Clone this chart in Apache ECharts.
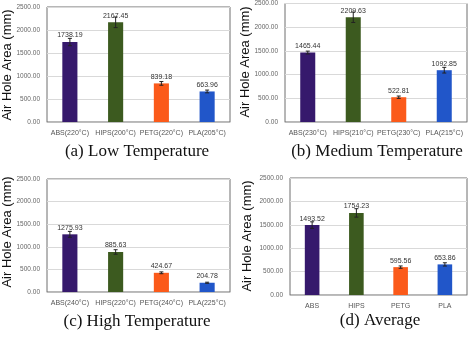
<!DOCTYPE html>
<html>
<head>
<meta charset="utf-8">
<script src="https://cdn.jsdelivr.net/npm/echarts@6/dist/echarts.min.js"></script>
<style>
  html, body { margin: 0; padding: 0; background: #fff; }
  #chart { width: 474px; height: 348px; }
</style>
</head>
<body>
<div id="chart"></div>
<script>
// categories
const catsLow = ['ABS(220°C)', 'HIPS(200°C)', 'PETG(220°C)', 'PLA(205°C)'];
const catsMed = ['ABS(230°C)', 'HIPS(210°C)', 'PETG(230°C)', 'PLA(215°C)'];
const catsHigh = ['ABS(240°C)', 'HIPS(220°C)', 'PETG(240°C)', 'PLA(225°C)'];
const catsAvg = ['ABS', 'HIPS', 'PETG', 'PLA'];

// values + error
const valLow = [1738.19, 2167.45, 839.18, 663.96];
const errLow = [80, 115, 40, 30];
const valMed = [1465.44, 2209.63, 522.81, 1092.85];
const errMed = [30, 110, 25, 60];
const valHigh = [1275.93, 885.63, 424.67, 204.78];
const errHigh = [65, 50, 20, 12];
const valAvg = [1493.52, 1754.23, 595.56, 653.86];
const errAvg = [70, 90, 25, 35];

const captions = ['(a) Low Temperature', '(b) Medium Temperature', '(c) High Temperature', '(d) Average'];
const barColors = ['#36196c', '#3c5a1f', '#fb5a1a', '#2156c9'];

const panels = [
  { cats: catsLow, vals: valLow, errs: errLow, grid: { left: 47, top: 7, width: 183, height: 115 } },
  { cats: catsMed, vals: valMed, errs: errMed, grid: { left: 285, top: 3, width: 182, height: 119 } },
  { cats: catsHigh, vals: valHigh, errs: errHigh, grid: { left: 47, top: 179, width: 183, height: 113 } },
  { cats: catsAvg, vals: valAvg, errs: errAvg, grid: { left: 290, top: 178, width: 177, height: 117 } }
];

const captionPos = [[137, 143], [377, 143], [137, 313], [380, 312]];
const yTitlePos = [[7, 65], [245, 62], [7, 232], [247, 236]];

const chart = echarts.init(document.getElementById('chart'));

const grids = [], xAxes = [], yAxes = [], series = [], graphics = [];

panels.forEach((p, i) => {
  grids.push(Object.assign({ show: true, borderColor: '#6e6e6e', borderWidth: 1 }, p.grid));
  xAxes.push({
    type: 'category', gridIndex: i, data: p.cats,
    axisLine: { show: true, lineStyle: { color: '#bdbdbd' } },
    axisTick: { show: false },
    axisLabel: { fontSize: 7, color: '#555', margin: 8, interval: 0, fontFamily: 'Liberation Sans' }
  });
  yAxes.push({
    type: 'value', gridIndex: i, min: 0, max: 2500, interval: 500,
    axisLine: { show: false }, axisTick: { show: false },
    splitLine: { lineStyle: { color: '#d9d9d9' } },
    axisLabel: { fontSize: 6.5, color: '#666', margin: 7, fontFamily: 'Liberation Sans', formatter: v => v.toFixed(2) }
  });
  series.push({
    type: 'bar', xAxisIndex: i, yAxisIndex: i, barWidth: '33%',
    data: p.vals.map((v, k) => ({ value: v, itemStyle: { color: barColors[k] } })),
    label: {
      show: true, position: 'top', distance: 3, fontSize: 7, color: '#333',
      fontFamily: 'Liberation Sans', formatter: d => d.value.toFixed(2)
    },
    z: 2
  });
  series.push({
    type: 'custom', xAxisIndex: i, yAxisIndex: i, z: 3,
    data: p.vals.map((v, k) => [k, v, p.errs[k]]),
    renderItem: (params, api) => {
      const x = api.value(0), v = api.value(1), e = api.value(2);
      const hi = api.coord([x, v + e]);
      const lo = api.coord([x, v - e]);
      const c = 2;
      const st = { stroke: '#222', lineWidth: 1 };
      return {
        type: 'group',
        children: [
          { type: 'line', shape: { x1: hi[0], y1: hi[1], x2: lo[0], y2: lo[1] }, style: st },
          { type: 'line', shape: { x1: hi[0] - c, y1: hi[1], x2: hi[0] + c, y2: hi[1] }, style: st },
          { type: 'line', shape: { x1: lo[0] - c, y1: lo[1], x2: lo[0] + c, y2: lo[1] }, style: st }
        ]
      };
    }
  });
  graphics.push({
    type: 'text', x: captionPos[i][0], y: captionPos[i][1],
    style: {
      text: captions[i], font: '17px "Liberation Serif"', fill: '#111',
      textAlign: 'center', textVerticalAlign: 'top'
    }
  });
  graphics.push({
    type: 'text', x: yTitlePos[i][0], y: yTitlePos[i][1], rotation: Math.PI / 2,
    style: {
      text: 'Air Hole Area (mm)', font: '13px "Liberation Sans"', fill: '#111',
      textAlign: 'center', textVerticalAlign: 'middle'
    }
  });
});

chart.setOption({
  animation: false,
  grid: grids,
  xAxis: xAxes,
  yAxis: yAxes,
  series: series,
  graphic: graphics
});
</script>
</body>
</html>
